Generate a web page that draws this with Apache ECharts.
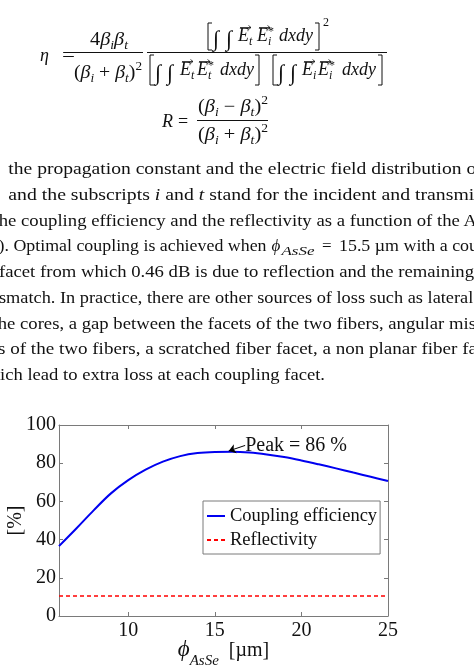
<!DOCTYPE html>
<html>
<head>
<meta charset="utf-8">
<script src="https://cdn.jsdelivr.net/npm/echarts@6/dist/echarts.min.js"></script>
<style>
  html, body { margin: 0; padding: 0; background: #fff; overflow: hidden; }
  #chart { position: absolute; left: 0; top: 0; width: 474px; height: 669px; }
  #page { position: absolute; left: 0; top: 0; width: 474px; height: 669px; pointer-events: none; z-index: 2; }
  #page text { font-family: 'Liberation Serif', serif; fill: #111; }
  .it { font-style: italic; }
</style>
</head>
<body>
<div id="chart"></div>
<svg id="page" width="474" height="669" viewBox="0 0 474 669" xmlns="http://www.w3.org/2000/svg">
  <!-- Equation 1 -->
  <g font-size="18">
    <text x="40" y="61" class="it">η</text>
    <text x="62" y="61" textLength="13" lengthAdjust="spacingAndGlyphs">=</text>
    <line x1="72" x2="143" y1="52.5" y2="52.5" stroke="#111" stroke-width="1"/>
    <text x="90" y="45" textLength="38" lengthAdjust="spacingAndGlyphs">4<tspan class="it">β</tspan><tspan class="it" font-size="12" dy="4">i</tspan><tspan class="it" dy="-4">β</tspan><tspan class="it" font-size="12" dy="4">t</tspan></text>
    <text x="74" y="77.5" textLength="68" lengthAdjust="spacingAndGlyphs">(<tspan class="it">β</tspan><tspan class="it" font-size="12" dy="4">i</tspan><tspan dy="-4"> + </tspan><tspan class="it">β</tspan><tspan class="it" font-size="12" dy="4">t</tspan><tspan dy="-4">)</tspan><tspan font-size="12" dy="-8">2</tspan></text>
    <line x1="147" x2="387" y1="52.5" y2="52.5" stroke="#111" stroke-width="1"/>
    <!-- numerator -->
    <path d="M212,23 H208 V50 H212 M315,23 H319 V50 H315" fill="none" stroke="#111" stroke-width="1"/>
    <text x="213" y="46" font-size="22" class="it">∫</text>
    <text x="226" y="46" font-size="22" class="it">∫</text>
    <text x="238" y="41" class="it">E</text><text x="249" y="45" font-size="12" class="it">t</text>
    <text x="257" y="41" class="it">E</text><text x="268" y="45" font-size="12" class="it">i</text><text x="268" y="35" font-size="12">*</text>
    <text x="279" y="41" class="it" textLength="34" lengthAdjust="spacingAndGlyphs">dxdy</text>
    <text x="323" y="26" font-size="12">2</text>
    <path d="M240,27.5 H251 M248.5,25.5 L251,27.5 L248.5,29.5 M259,27.5 H270 M267.5,25.5 L270,27.5 L267.5,29.5" fill="none" stroke="#111" stroke-width="0.8"/>
    <!-- denominator -->
    <path d="M154,55 H150 V85 H154 M255,55 H259 V85 H255 M277,55 H273 V85 H277 M378,55 H382 V85 H378" fill="none" stroke="#111" stroke-width="1"/>
    <text x="155" y="80" font-size="22" class="it">∫</text>
    <text x="167" y="80" font-size="22" class="it">∫</text>
    <text x="180" y="75" class="it">E</text><text x="191" y="79" font-size="12" class="it">t</text>
    <text x="197" y="75" class="it">E</text><text x="208" y="79" font-size="12" class="it">t</text><text x="208" y="69" font-size="12">*</text>
    <text x="220" y="75" class="it" textLength="34" lengthAdjust="spacingAndGlyphs">dxdy</text>
    <text x="278" y="80" font-size="22" class="it">∫</text>
    <text x="290" y="80" font-size="22" class="it">∫</text>
    <text x="302" y="75" class="it">E</text><text x="313" y="79" font-size="12" class="it">i</text>
    <text x="318" y="75" class="it">E</text><text x="329" y="79" font-size="12" class="it">i</text><text x="329" y="69" font-size="12">*</text>
    <text x="342" y="75" class="it" textLength="34" lengthAdjust="spacingAndGlyphs">dxdy</text>
    <path d="M182,61.5 H193 M190.5,59.5 L193,61.5 L190.5,63.5 M199,61.5 H210 M207.5,59.5 L210,61.5 L207.5,63.5 M304,61.5 H315 M312.5,59.5 L315,61.5 L312.5,63.5 M320,61.5 H331 M328.5,59.5 L331,61.5 L328.5,63.5" fill="none" stroke="#111" stroke-width="0.8"/>
  </g>
  <!-- Equation 2 -->
  <g font-size="18">
    <text x="162" y="127" class="it">R</text>
    <text x="178" y="127">=</text>
    <line x1="197" x2="268" y1="120.5" y2="120.5" stroke="#111" stroke-width="1"/>
    <text x="198" y="112" textLength="70" lengthAdjust="spacingAndGlyphs">(<tspan class="it">β</tspan><tspan class="it" font-size="12" dy="4">i</tspan><tspan dy="-4"> − </tspan><tspan class="it">β</tspan><tspan class="it" font-size="12" dy="4">t</tspan><tspan dy="-4">)</tspan><tspan font-size="12" dy="-8">2</tspan></text>
    <text x="198" y="140" textLength="70" lengthAdjust="spacingAndGlyphs">(<tspan class="it">β</tspan><tspan class="it" font-size="12" dy="4">i</tspan><tspan dy="-4"> + </tspan><tspan class="it">β</tspan><tspan class="it" font-size="12" dy="4">t</tspan><tspan dy="-4">)</tspan><tspan font-size="12" dy="-8">2</tspan></text>
  </g>
  <!-- Body text -->
  <g font-size="17">
    <text x="8.3" y="174" textLength="468" lengthAdjust="spacingAndGlyphs">the propagation constant and the electric field distribution o</text>
    <text x="8.3" y="199.8" textLength="466" lengthAdjust="spacingAndGlyphs">and the subscripts <tspan class="it">i</tspan> and <tspan class="it">t</tspan> stand for the incident and transmi</text>
    <text x="-6.5" y="225.5" textLength="483.5" lengthAdjust="spacingAndGlyphs">the coupling efficiency and the reflectivity as a function of the A</text>
    <text x="-1.5" y="251.3" textLength="268" lengthAdjust="spacingAndGlyphs">). Optimal coupling is achieved when</text>
    <text x="271.5" y="251.3" class="it" font-size="17">ϕ</text>
    <text x="281.5" y="254.8" class="it" font-size="12" textLength="33" lengthAdjust="spacingAndGlyphs">AsSe</text>
    <text x="322" y="251.3">=</text>
    <text x="339" y="251.3" textLength="139" lengthAdjust="spacingAndGlyphs">15.5 µm with a cou</text>
    <text x="-1" y="277" textLength="475" lengthAdjust="spacingAndGlyphs">facet from which 0.46 dB is due to reflection and the remaining</text>
    <text x="-1" y="302.8" textLength="474.3" lengthAdjust="spacingAndGlyphs">smatch. In practice, there are other sources of loss such as lateral</text>
    <text x="-7.5" y="328.5" textLength="483.5" lengthAdjust="spacingAndGlyphs">the cores, a gap between the facets of the two fibers, angular mis</text>
    <text x="-2" y="354.3" textLength="479" lengthAdjust="spacingAndGlyphs">s of the two fibers, a scratched fiber facet, a non planar fiber fa</text>
    <text x="0" y="380" textLength="325" lengthAdjust="spacingAndGlyphs">ich lead to extra loss at each coupling facet.</text>
  </g>
</svg>
<script>
const FONT = 'Liberation Serif';

// x: core diameter phi_AsSe [µm]
const xValues = [6, 7, 8, 9, 10, 11, 12, 13, 14, 15, 16, 17, 18, 19, 20, 21, 22, 23, 24, 25];
// Coupling efficiency [%]
const couplingEfficiency = [36.6, 45.8, 55.3, 64.2, 71.1, 76.6, 80.8, 83.7, 85.3, 85.9, 86.0, 85.6, 84.6, 83.2, 81.4, 79.4, 77.3, 75.1, 72.9, 70.7];
// Reflectivity [%]
const reflectivity = [10.5, 10.5, 10.5, 10.5, 10.5, 10.5, 10.5, 10.5, 10.5, 10.5, 10.5, 10.5, 10.5, 10.5, 10.5, 10.5, 10.5, 10.5, 10.5, 10.5];

const seriesNames = ['Coupling efficiency', 'Reflectivity'];
const xTickValues = [10, 15, 20, 25];

const peakX = 15.8;
const peakY = 86;
const peakText = 'Peak = 86 %';
const labelOffset = [0.95, 3.3];

const chart = echarts.init(document.getElementById('chart'));

const axisColor = '#7a7a7a';
const baseX = {
  type: 'value', min: 6, max: 25,
  axisLine: { show: true, onZero: false, lineStyle: { color: axisColor, width: 1 } },
  axisTick: { show: true, inside: true, length: 4, customValues: xTickValues, lineStyle: { color: axisColor } },
  splitLine: { show: false }
};
const baseY = {
  type: 'value', min: 0, max: 100, interval: 20,
  axisLine: { show: true, onZero: false, lineStyle: { color: axisColor, width: 1 } },
  axisTick: { show: true, inside: true, length: 4, lineStyle: { color: axisColor } },
  splitLine: { show: false }
};

chart.setOption({
  animation: false,
  backgroundColor: '#fff',
  grid: { left: 59, top: 425, width: 329, height: 191, containLabel: false, outerBoundsMode: 'none' },
  xAxis: [
    Object.assign({}, baseX, {
      position: 'bottom',
      axisLabel: { show: true, customValues: xTickValues, fontFamily: FONT, fontSize: 20, color: '#111', margin: 5 },
      name: '{phi|ϕ}{sub|AsSe}{u|  [µm]}',
      nameLocation: 'middle',
      nameGap: 19,
      nameMoveOverlap: false,
      nameTextStyle: {
        rich: {
          phi: { fontFamily: FONT, fontStyle: 'italic', fontSize: 23, color: '#111', lineHeight: 26, verticalAlign: 'bottom' },
          sub: { fontFamily: FONT, fontStyle: 'italic', fontSize: 15, color: '#111', verticalAlign: 'bottom', lineHeight: 15, padding: [0, 0, -8, 0] },
          u: { fontFamily: FONT, fontSize: 20, color: '#111', lineHeight: 26, verticalAlign: 'bottom' }
        }
      }
    }),
    Object.assign({}, baseX, { position: 'top', axisLabel: { show: false } })
  ],
  yAxis: [
    Object.assign({}, baseY, {
      position: 'left',
      axisLabel: { fontFamily: FONT, fontSize: 20, color: '#111', margin: 3 },
      name: '[%]',
      nameLocation: 'middle',
      nameGap: 33,
      nameMoveOverlap: false,
      nameRotate: 90,
      nameTextStyle: { fontFamily: FONT, fontSize: 20, color: '#111' }
    }),
    Object.assign({}, baseY, { position: 'right', axisLabel: { show: false } })
  ],
  legend: {
    orient: 'vertical',
    left: 203, top: 501,
    backgroundColor: '#fff',
    borderColor: axisColor, borderWidth: 1,
    padding: [5, 3, 4, 3],
    itemGap: 4,
    itemWidth: 18, itemHeight: 14,
    itemStyle: { opacity: 0 },
    textStyle: { fontFamily: FONT, fontSize: 18.5, color: '#111', lineHeight: 20 },
    data: seriesNames
  },
  series: [
    {
      name: seriesNames[0], type: 'line', smooth: 0.35, symbol: 'none',
      data: xValues.map((x, i) => [x, couplingEfficiency[i]]),
      lineStyle: { color: '#0000f0', width: 2 },
      itemStyle: { color: '#0000f0' },
      z: 3,
      markLine: {
        silent: true, symbol: ['none', 'arrow'], symbolSize: 7,
        lineStyle: { color: '#000', width: 1, type: 'solid' },
        label: { show: false },
        data: [[{ coord: [peakX + labelOffset[0], peakY + labelOffset[1]] }, { coord: [peakX, peakY + 0.4] }]]
      },
      markPoint: {
        silent: true, symbol: 'circle', symbolSize: 0,
        label: { show: true, position: 'right', distance: 0, formatter: peakText, fontFamily: FONT, fontSize: 20, color: '#111' },
        data: [{ coord: [peakX + labelOffset[0], peakY + labelOffset[1]] }]
      }
    },
    {
      name: seriesNames[1], type: 'line', symbol: 'none',
      data: xValues.map((x, i) => [x, reflectivity[i]]),
      lineStyle: { color: '#ff0000', width: 1.6, type: [4, 3] },
      itemStyle: { color: '#ff0000' },
      z: 3
    }
  ]
});
</script>
</body>
</html>
